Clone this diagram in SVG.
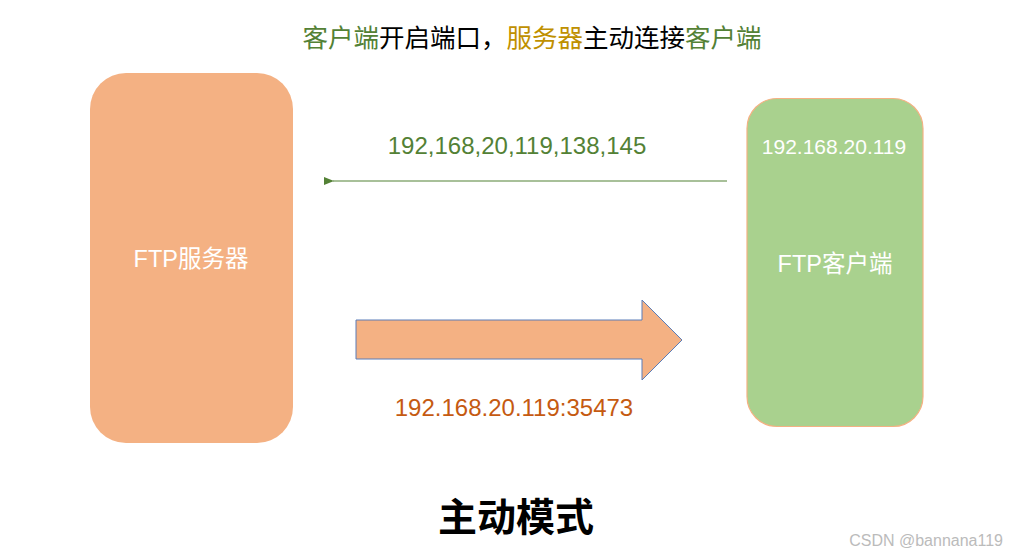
<svg xmlns="http://www.w3.org/2000/svg" width="1017" height="557" viewBox="0 0 1017 557">
<style>
text{font-family:"Liberation Sans","Noto Sans CJK SC",sans-serif}
.w{fill:#ffffff}
.g{fill:#538135}
.o{fill:#BF9000}
.k{fill:#000000}
</style>
<defs>
<marker id="ah" markerWidth="10" markerHeight="8" refX="1" refY="4" orient="auto" markerUnits="userSpaceOnUse">
<path d="M10,0 L0,4 L10,8 Z" fill="#538135"/>
</marker>
</defs>
<rect width="1017" height="557" fill="#ffffff"/>
<g id="title">
<text x="532" y="47" font-size="25.5" text-anchor="middle"><tspan class="g">客户端</tspan><tspan class="k">开启端口，</tspan><tspan class="o">服务器</tspan><tspan class="k">主动连接</tspan><tspan class="g">客户端</tspan></text>
</g>
<g id="server">
<rect x="90" y="73" width="203" height="370" rx="36" fill="#F4B183"/>
<text x="191" y="267" font-size="23.5" text-anchor="middle" class="w">FTP服务器</text>
</g>
<g id="client">
<rect x="747" y="98.5" width="176" height="328" rx="30" fill="#A9D18E" stroke="#F4B183" stroke-width="1.2"/>
<text x="834" y="154" font-size="21" text-anchor="middle" class="w">192.168.20.119</text>
<text x="835" y="272" font-size="23.5" text-anchor="middle" class="w">FTP客户端</text>
</g>
<g id="connectors">
<line x1="727" y1="181" x2="333" y2="181" stroke="#538135" stroke-width="1.2" marker-end="url(#ah)"/>
<text x="517" y="154" font-size="24" text-anchor="middle" class="g">192,168,20,119,138,145</text>
<path d="M356,320 L642,320 L642,300 L682,340 L642,380 L642,359 L356,359 Z" fill="#F4B183" stroke="#5B7DB8" stroke-width="1"/>
<text x="514" y="416" font-size="24" text-anchor="middle" fill="#C55A11">192.168.20.119:35473</text>
</g>
<g id="caption">
<text x="516" y="531" font-size="39" font-weight="bold" text-anchor="middle" class="k">主动模式</text>
<text x="1003" y="546" font-size="16" text-anchor="end" fill="#bbbbbb">CSDN @bannana119</text>
</g>
</svg>
